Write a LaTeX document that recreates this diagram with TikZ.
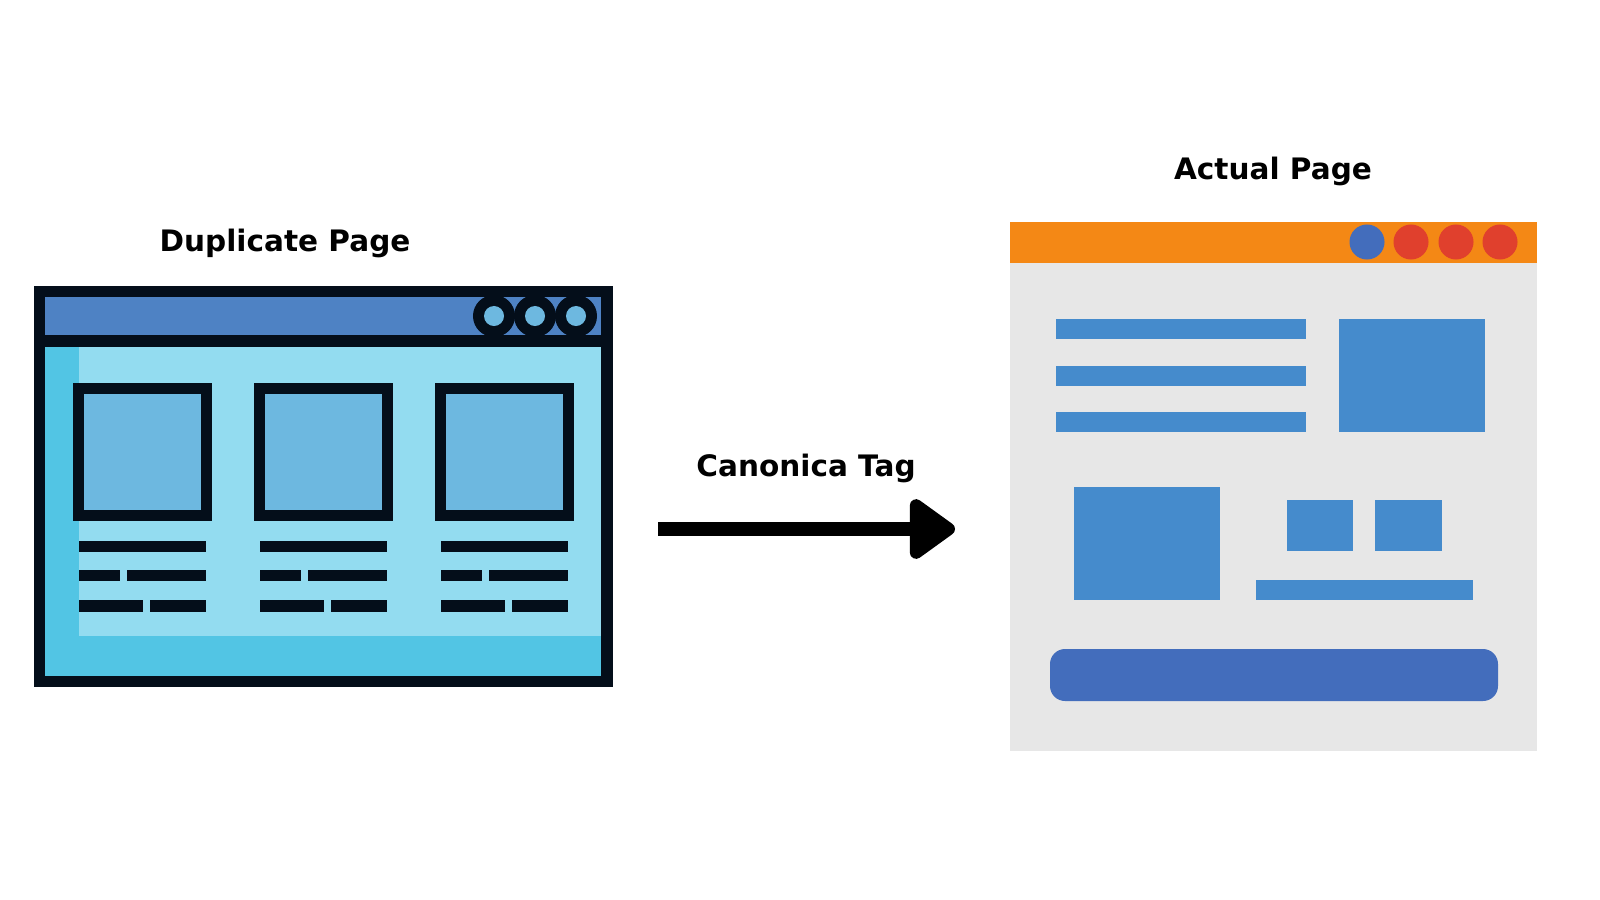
\documentclass[tikz,border=0pt]{standalone}
\usepackage{fontspec}
\setmainfont{DejaVu Sans}
\usetikzlibrary{arrows.meta,positioning}
\definecolor{inkdark}{HTML}{040E1A}
\definecolor{dupbar}{HTML}{4E82C4}
\definecolor{dupsky}{HTML}{93DCF0}
\definecolor{dupstrip}{HTML}{52C5E4}
\definecolor{dupbox}{HTML}{6DB8E0}
\definecolor{actorange}{HTML}{F48815}
\definecolor{actgray}{HTML}{E7E7E7}
\definecolor{actblue}{HTML}{458BCC}
\definecolor{actdot}{HTML}{436DBC}
\definecolor{actred}{HTML}{E0402D}
\tikzset{
  pagetitle/.style={font=\fontsize{8.4}{10}\selectfont\bfseries, inner sep=0pt, anchor=base},
  imgbox/.style={draw=inkdark, line width=0.11cm, fill=dupbox},
  txtbar/.style={fill=inkdark}
}
\begin{document}
\begin{tikzpicture}[x=0.01cm, y=-0.01cm, >=Stealth,
  block/.style={fill=actblue},
  bigarrow/.style={line width=0.147cm, -{Triangle[length=0.50cm, width=0.68cm, round]}}]
\useasboundingbox (0,0) rectangle (1600,900);
% duplicate page window
\fill[inkdark] (34,286) rectangle (613,687);
\fill[dupbar] (45,297) rectangle (601,335);
\fill[dupstrip] (45,347) rectangle (601,676);
\fill[dupsky] (79,347) rectangle (601,636);
\foreach \cx in {494,535,576} {
  \fill[inkdark] (\cx,316) circle (0.21cm);
  \fill[dupbox] (\cx,316) circle (0.10cm);
}
\foreach \bx in {73,254,435} {
  \draw[imgbox] (\bx+5.5,388.5) rectangle (\bx+133.5,515.5);
  \fill[txtbar] (\bx+6,540.5) rectangle (\bx+133,552);
  \fill[txtbar] (\bx+6,569.5) rectangle (\bx+46.5,581);
  \fill[txtbar] (\bx+54,569.5) rectangle (\bx+133,581);
  \fill[txtbar] (\bx+6,600) rectangle (\bx+69.5,611.5);
  \fill[txtbar] (\bx+77,600) rectangle (\bx+133,611.5);
}
\node[pagetitle] (duptitle) at (285,251.5) {Duplicate Page};

% actual page window
\fill[actgray] (1010,222) rectangle (1537,751);
\fill[actorange] (1010,222) rectangle (1537,263);
\fill[actdot] (1367,242) circle (0.175cm);
\foreach \cx in {1411,1456,1500}
  \fill[actred] (\cx,242) circle (0.175cm);
\foreach \ly in {319,366,412}
  \fill[block] (1056,\ly) rectangle (1306,\ly+20);
\fill[block] (1338.5,319) rectangle (1485,432);
\fill[block] (1074,487) rectangle (1220,600);
\fill[block] (1287,500) rectangle (1353,551);
\fill[block] (1375,500) rectangle (1442,551);
\fill[block] (1256,580) rectangle (1473,600);
\fill[actdot, rounded corners=0.15cm] (1050,649) rectangle (1498,701);
\node[pagetitle] (acttitle) at (1273,179) {Actual Page};

% canonical link
\coordinate (tagfrom) at (658,529);
\coordinate (tagto) at (955,529);
\draw[bigarrow] (tagfrom) -- (tagto);
\node[pagetitle] (tagtitle) at (806,476.7) {Canonica Tag};
\end{tikzpicture}
\end{document}
